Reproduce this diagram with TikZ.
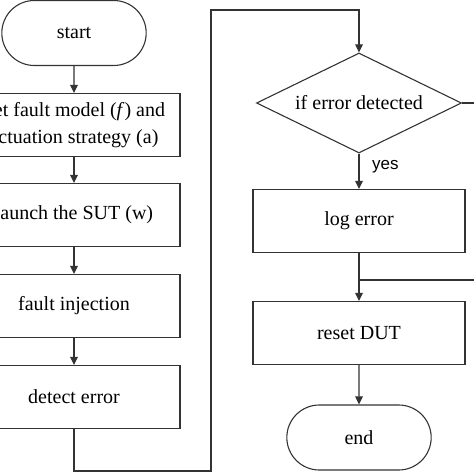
\documentclass[tikz,border=0pt]{standalone}
\usepackage{fontspec}
\setmainfont{Liberation Serif}
\newfontfamily\yesfont{Liberation Sans}
\usetikzlibrary{positioning, arrows.meta, shapes.geometric, shapes.misc}
\usepackage{xcolor}

\begin{document}
\begin{tikzpicture}[x=1bp, y=-1bp,
    flowline/.style={line width=1.1bp, draw=linecolor},
    flowarrow/.style={flowline, -{Triangle[length=8bp, width=7.5bp]}},
    procbox/.style={draw=linecolor, line width=1.1bp, rectangle, minimum width=212bp,
      minimum height=63bp, align=center, font=\fontsize{20bp}{27bp}\selectfont},
    termbox/.style={draw=linecolor, line width=1.1bp, rounded rectangle, minimum width=151bp,
      minimum height=65bp, font=\fontsize{20bp}{27bp}\selectfont},
    decbox/.style={draw=linecolor, line width=1.1bp, diamond, aspect=2, inner sep=0pt,
      minimum width=205bp, minimum height=100bp, font=\fontsize{20bp}{27bp}\selectfont},
    yeslbl/.style={font=\yesfont\fontsize{17bp}{20bp}\selectfont, inner sep=0pt}]
    % Define colors
    \definecolor{linecolor}{RGB}{51, 51, 51}

    % Frame of the picture
    \useasboundingbox (0,0) rectangle (474,474);
    \clip (0,0) rectangle (474,474);

    % Left column
    \node[termbox] (start) at (74,33) {start};
    \node[procbox] (setfault) at (74,125) {Set fault model (\textit{f}) and\\actuation strategy (a)};
    \node[procbox] (launch) at (74,215) {launch the SUT (w)};
    \node[procbox] (inject) at (74,306) {fault injection};
    \node[procbox] (detect) at (74,397) {detect error};

    % Right column
    \node[decbox] (ifdet) at (359,103) {if error detected};
    \node[procbox] (logerr) at (359,221) {log error};
    \node[procbox] (reset) at (359,333) {reset DUT};
    \node[termbox] (end) at (359,437.5) {end};

    % Turning points
    \coordinate (lowturn) at (211,471);
    \coordinate (highturn) at (211,10);
    \coordinate (noturn) at (495,103);
    \coordinate (nojoin) at (359,280);

    % Connectors
    \draw[flowarrow] (start) -- (setfault);
    \draw[flowarrow] (setfault) -- (launch);
    \draw[flowarrow] (launch) -- (inject);
    \draw[flowarrow] (inject) -- (detect);
    \draw[flowarrow] (detect.south) |- (lowturn) -- (highturn) -| (ifdet.north);
    \draw[flowarrow] (ifdet.south) -- (logerr.north);
    \node[yeslbl, anchor=west] (yes) at (372,167) {yes};
    \draw[flowarrow] (logerr) -- (reset);
    \draw[flowline] (ifdet.east) -- (noturn) |- (nojoin);
    \draw[flowarrow] (reset) -- (end);

  \end{tikzpicture}
\end{document}
